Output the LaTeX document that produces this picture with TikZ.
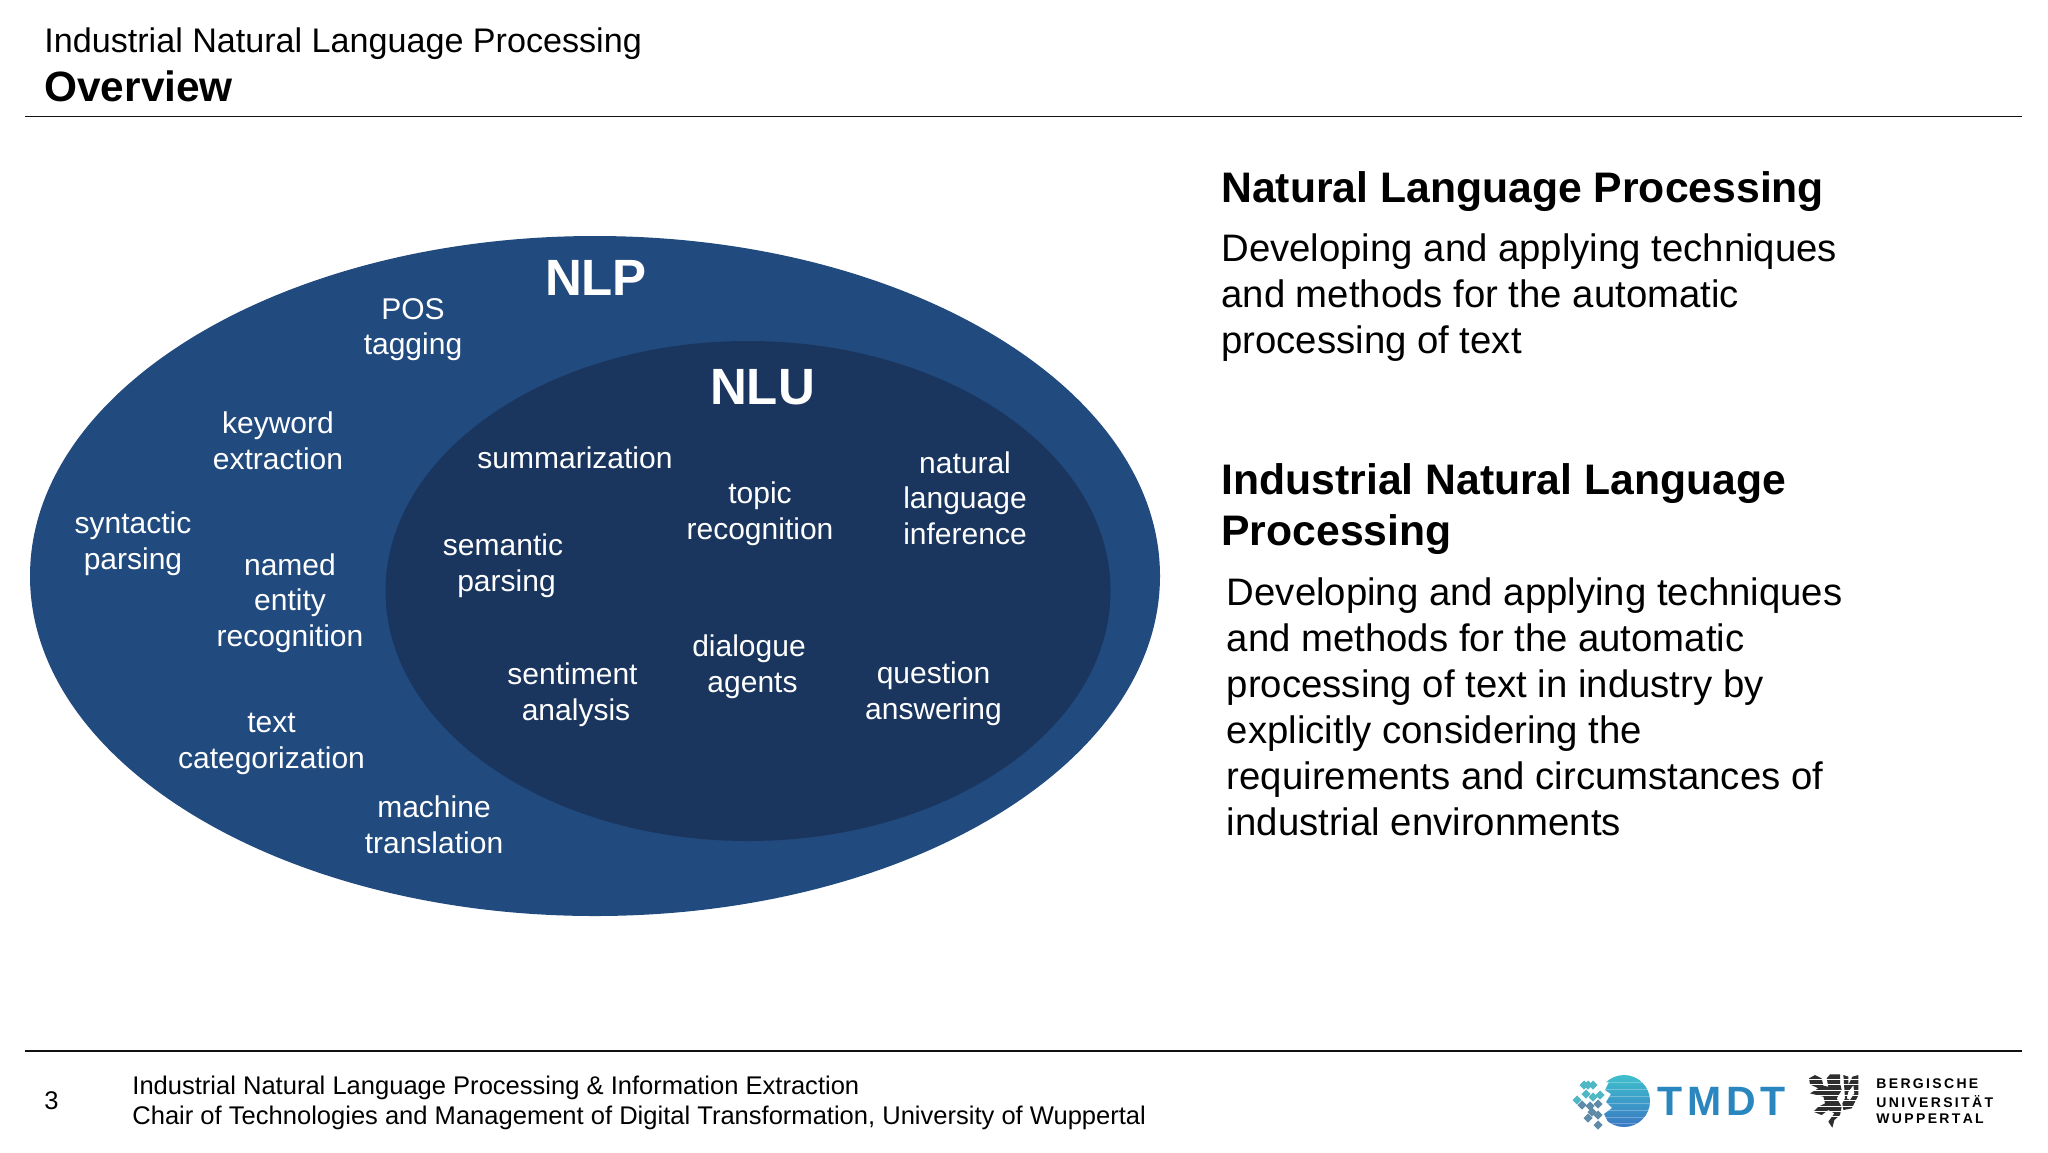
\documentclass[tikz,border=0pt]{standalone}
\usepackage{fontspec}
\setmainfont{Liberation Sans}
\definecolor{outerblue}{HTML}{214A7E}
\definecolor{innerblue}{HTML}{1A365F}
\definecolor{rulecol}{HTML}{111111}
\definecolor{tmdtblue}{HTML}{2A86BE}
\definecolor{globetop}{HTML}{3FC0CC}
\definecolor{globebot}{HTML}{3A78C4}
\definecolor{fragteal}{HTML}{4FB8C4}
\definecolor{fraggray}{HTML}{5F8AA8}
\tikzset{
  lbl/.style={text=white,align=center,inner sep=0pt,font=\fontsize{15}{17.8}\selectfont},
  big/.style={text=white,inner sep=0pt,font=\bfseries\fontsize{25.5}{30}\selectfont},
  rtitle/.style={anchor=west,align=left,inner sep=0pt,text=black,font=\bfseries\fontsize{21.35}{25.8}\selectfont},
  rbody/.style={anchor=west,align=left,inner sep=0pt,text=black,font=\fontsize{19.16}{23}\selectfont},
  foot/.style={anchor=west,align=left,inner sep=0pt,text=black,font=\fontsize{12.77}{15}\selectfont},
  sep/.style={draw=rulecol,line width=0.9pt},
  frag/.style={inner sep=0pt,minimum size=3.2pt,rotate=45},
  bu/.style={anchor=west,inner sep=0pt,text=black,font=\bfseries\fontsize{7.0}{8}\selectfont},
}
\begin{document}
\begin{tikzpicture}[x=0.5pt,y=-0.5pt]
\useasboundingbox (0,0) rectangle (2048,1152);
\fill[white] (0,0) rectangle (2048,1152);
% header
\node[anchor=west,inner sep=0pt,font=\fontsize{17.06}{20}\selectfont] (head) at (44,44) {Industrial Natural Language Processing};
\node[anchor=west,inner sep=0pt,font=\bfseries\fontsize{21.2}{24}\selectfont] (over) at (44,86) {Overview};
\draw[sep] (25,116.5) -- (2022,116.5);
\draw[sep] (25,1051) -- (2022,1051);
% ellipses
\fill[outerblue] (595,576) ellipse [x radius=565,y radius=340];
\fill[innerblue] (748,591) ellipse [x radius=362.5,y radius=250];
\node[big] (nlp) at (596,278) {NLP};
\node[big] (nlu) at (762.5,387) {NLU};
% labels
\node[lbl] (pos) at (413,329.5) {POS\\tagging};
\node[lbl] (key) at (278,441) {keyword\\extraction};
\node[lbl] (syn) at (133,543.5) {syntactic\\parsing};
\node[lbl] (ner) at (290,603) {named\\entity\\recognition};
\node[lbl] (txt) at (271.5,744) {text\\categorization};
\node[lbl] (mt) at (434,825) {machine\\translation};
\node[lbl] (sum) at (575,458) {summarization};
\node[lbl] (sem) at (503,565.5) {semantic\\\hspace*{3.5pt}parsing};
\node[lbl] (top) at (760,513.5) {topic\\recognition};
\node[lbl] (nli) at (965,498) {natural\\language\\inference};
\node[lbl] (sen) at (572.5,695) {sentiment\\\hspace*{3.5pt}analysis};
\node[lbl] (dia) at (749,666.5) {dialogue\\\hspace*{3.5pt}agents};
\node[lbl] (qa) at (933.5,694) {question\\answering};
% right column
\node[rtitle] (t1) at (1221,192) {Natural Language Processing};
\node[rbody] (b1) at (1221,298) {Developing and applying techniques\\and methods for the automatic\\processing of text};
\node[rtitle] (t2) at (1221,509) {Industrial Natural Language\\Processing};
\node[rbody] (b2) at (1226.5,707) {Developing and applying techniques\\and methods for the automatic\\processing of text in industry by\\explicitly considering the\\requirements and circumstances of\\industrial environments};
% footer
\node[anchor=west,inner sep=0pt,font=\fontsize{12.77}{15}\selectfont] (pg) at (44,1101) {3};
\node[foot] (f1) at (132,1087.5) {Industrial Natural Language Processing \& Information Extraction};
\node[foot] (f2) at (132,1118) {Chair of Technologies and Management of Digital Transformation, University of Wuppertal};
% TMDT logo: globe with a stepped left edge and stripes
\begin{scope}
  \clip (1624,1101) circle [radius=26];
  \clip (1650,1070) -- (1606,1070) -- (1602,1082) -- (1609,1082) -- (1605,1090) -- (1611,1094) -- (1606,1102) -- (1612,1108) -- (1604,1114) -- (1608,1122) -- (1606,1132) -- (1650,1132) -- cycle;
  \shade[top color=globetop,bottom color=globebot] (1596,1075) rectangle (1650,1127);
  \foreach \gy in {1082,1089,1096,1103,1110,1117,1123}{\draw[white,opacity=0.28,line width=0.35pt] (1596,\gy) -- (1650,\gy);}
\end{scope}
\foreach \cx/\cy/\cc/\cn in {1588/1085/fragteal/a,1584/1085/fragteal/b,1593/1085/fragteal/c,1577/1100/fragteal/d,1593/1097/fragteal/e,1586/1094/fragteal/i,1600/1095/fragteal/j,1582/1105/fraggray/f,1590/1106/fraggray/k,1598/1104/fraggray/l,1588/1118/fraggray/g,1598/1125/fraggray/h,1598/1115/fraggray/m,1592/1112/fraggray/n}{
  \node[frag,fill=\cc] (fr\cn) at (\cx,\cy) {};}
\node[anchor=west,inner sep=0pt,text=tmdtblue,font=\bfseries\fontsize{20.5}{24}\selectfont\addfontfeatures{LetterSpace=12}] (tmdt) at (1657,1101) {TMDT};
% lion (simplified)
\begin{scope}[shift={(1795,1065)},x=0.1667pt,y=-0.1667pt]
  \fill[black!82] (42,40) -- (60,30) -- (80,40) -- (85,62) -- (100,65) -- (95,40) -- (105,28) -- (135,28) -- (135,55) -- (140,75) -- (125,100) -- (140,125) -- (135,150) -- (118,165) -- (112,188) -- (100,170) -- (118,145) -- (100,135) -- (80,150) -- (55,140) -- (70,125) -- (90,115) -- (85,95) -- (45,85) -- (70,70) -- (45,58) -- cycle;
  \fill[black!82,even odd rule] (145,30) -- (160,35) -- (160,60) -- (172,35) -- (190,30) -- (190,90) -- (170,130) -- (145,135) -- (142,115) -- (150,100) -- cycle (160,80) -- (175,60) -- (178,85) -- (165,105) -- (155,100) -- cycle;
  \foreach \hy in {42,58,74,90,106,122,138,154}{\draw[white,line width=0.18pt] (35,\hy) -- (200,\hy);}
\end{scope}
% university
\node[bu] (bu1) at (1876,1084) {B\,E\,R\,G\,I\,S\,C\,H\,E};
\node[bu] (bu2) at (1876,1101.5) {U\,N\,I\,V\,E\,R\,S\,I\,T\,Ä\,T};
\node[bu] (bu3) at (1876,1119) {W\,U\,P\,P\,E\,R\,T\,A\,L};
\end{tikzpicture}
\end{document}
